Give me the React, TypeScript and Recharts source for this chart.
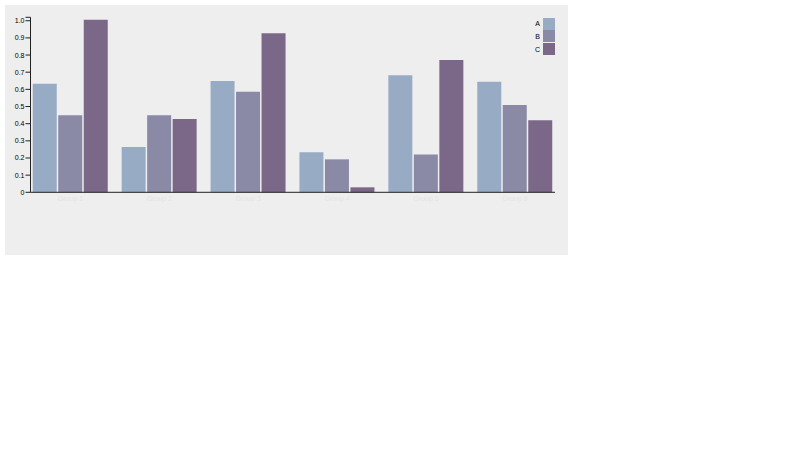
import { BarChart, Bar, XAxis, YAxis } from 'recharts';

const groups = ['Group 1', 'Group 2', 'Group 3', 'Group 4', 'Group 5', 'Group 6'];
const seriesA = [0.633, 0.264, 0.649, 0.233, 0.682, 0.645];
const seriesB = [0.449, 0.449, 0.586, 0.192, 0.221, 0.509];
const seriesC = [1.005, 0.427, 0.927, 0.029, 0.771, 0.42];
const yTicks = [0, 0.1, 0.2, 0.3, 0.4, 0.5, 0.6, 0.7, 0.8, 0.9, 1.0, 1.02];

const keys = ['A', 'B', 'C'];
const colors = ['#98abc5', '#8a89a6', '#7b6888'];

const data = groups.map((g, i) => ({ name: g, A: seriesA[i], B: seriesB[i], C: seriesC[i] }));

const fmt = (v: number) => {
  if (v > 1.01) return '';
  return v === 0 ? '0' : v.toFixed(1);
};

const font = 'Liberation Sans, Arial, sans-serif';

export default function App() {
  return (
    <div style={{ position: 'absolute', left: 5, top: 5, width: 563, height: 250, background: '#eeeeee' }}>
      <BarChart
        width={563}
        height={250}
        data={data}
        margin={{ top: 12.3, right: 13, bottom: 32.7, left: 0 }}
        barCategoryGap={6.7}
        barGap={1.5}
      >
        <XAxis
          dataKey="name"
          height={30}
          padding={{ left: -4.45, right: -4.45 }}
          tickLine={false}
          tickSize={0}
          tickMargin={4}
          axisLine={{ stroke: '#222' }}
          tick={{ fontSize: 7, fill: '#e4e4e4', fontFamily: font }}
        />
        <YAxis
          width={25.5}
          domain={[0, 1.02]}
          ticks={yTicks}
          interval={0}
          tickFormatter={fmt}
          tickSize={5}
          tickMargin={1}
          axisLine={{ stroke: '#222' }}
          tickLine={{ stroke: '#222' }}
          tick={{ fontSize: 7, fill: '#000', fontFamily: font }}
        />
        {keys.map((k, i) => (
          <Bar key={k} dataKey={k} fill={colors[i]} isAnimationActive={false} />
        ))}
      </BarChart>
      <div style={{ position: 'absolute', top: 12.3, right: 13, fontFamily: font, fontSize: 7, color: '#000' }}>
        {keys.map((k, i) => (
          <div key={k} style={{ display: 'flex', alignItems: 'center', justifyContent: 'flex-end', height: 12.7 }}>
            <span style={{ marginRight: 3 }}>{k}</span>
            <span style={{ width: 12, height: 12, background: colors[i], display: 'inline-block' }} />
          </div>
        ))}
      </div>
    </div>
  );
}
